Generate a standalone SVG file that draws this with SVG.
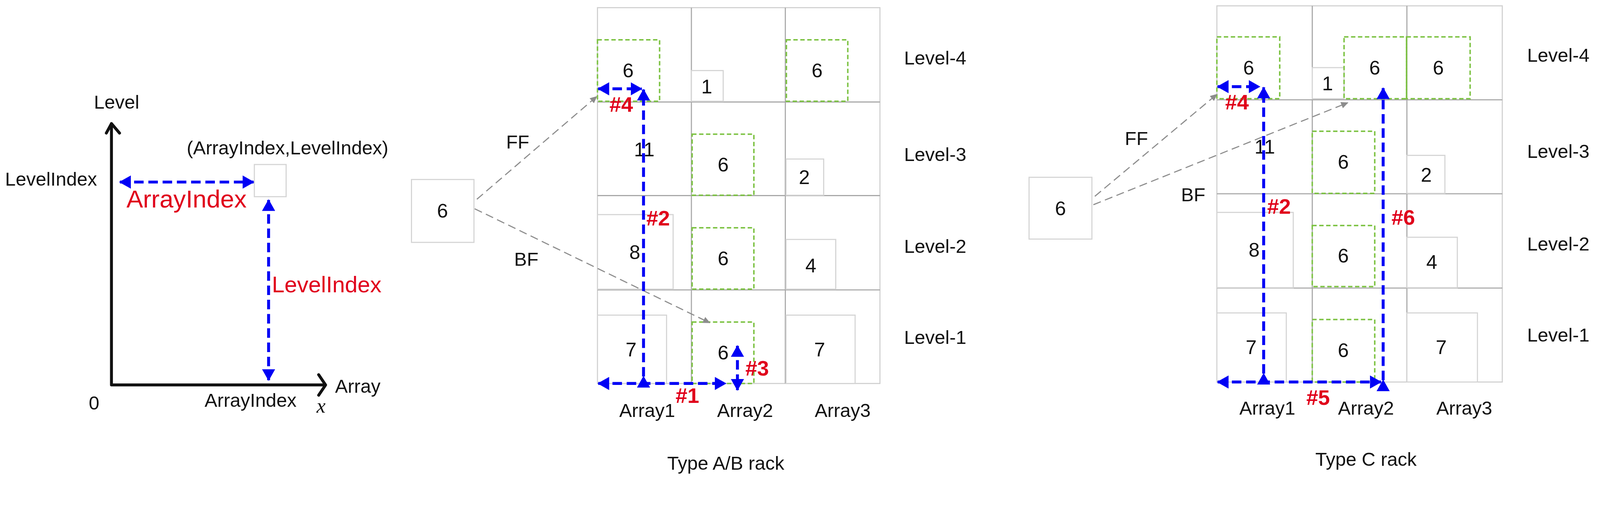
<svg xmlns="http://www.w3.org/2000/svg" width="4379" height="1323" viewBox="0 0 4379 1323">
<style>
text{font-family:"Liberation Sans",Arial,sans-serif;font-size:52px;fill:#111}
.n{font-size:54px;text-anchor:middle;dominant-baseline:central}
.m{text-anchor:middle}
.r{fill:#e0001b}
.h{fill:#e0001b;font-weight:bold;font-size:58px;text-anchor:middle;dominant-baseline:central}
.grid{stroke:#a8a8a8;stroke-width:3;fill:none}
.outer{stroke:#d0d0d0;stroke-width:3;fill:none}
.gbox{fill:#fff;stroke:#d4d4d4;stroke-width:3}
.green{fill:none;stroke:#7cc242;stroke-width:4;stroke-dasharray:12 7}
.blue{stroke:#0000f5;stroke-width:8;stroke-dasharray:26 13;fill:none;marker-start:url(#bs);marker-end:url(#be)}
.gray{stroke:#8c8c8c;stroke-width:3;stroke-dasharray:22 12;fill:none;marker-end:url(#ga)}
.axis{stroke:#111;stroke-width:8;fill:none;stroke-linecap:round;stroke-linejoin:round}
</style>
<defs>
<marker id="be" markerUnits="userSpaceOnUse" markerWidth="34" markerHeight="36" refX="30" refY="18" orient="auto"><path d="M0,0 L32,18 L0,36 Z" fill="#0000f5"/></marker>
<marker id="bs" markerUnits="userSpaceOnUse" markerWidth="34" markerHeight="36" refX="2" refY="18" orient="auto"><path d="M32,0 L0,18 L32,36 Z" fill="#0000f5"/></marker>
<marker id="ga" markerUnits="userSpaceOnUse" markerWidth="20" markerHeight="18" refX="18" refY="9" orient="auto"><path d="M0,0 L20,9 L0,18 Z" fill="#8c8c8c"/></marker>
</defs>
<g transform="scale(0.9355)">
<g id="coord">
<path class="axis" d="M305,1053 V338 M291,364 L305,338 L327,364 M305,1053 H890 M872,1025 L891,1053 L872,1081"/>
<text x="257" y="297">Level</text>
<text x="14" y="508">LevelIndex</text>
<text x="511" y="422">(ArrayIndex,LevelIndex)</text>
<rect x="696" y="450" width="87" height="88" class="gbox"/>
<text x="346" y="568" class="r" style="font-size:68px">ArrayIndex</text>
<text x="744" y="800" class="r" style="font-size:62px">LevelIndex</text>
<text x="243" y="1120">0</text>
<text x="560" y="1113">ArrayIndex</text>
<text x="917" y="1074">Array</text>
<text x="866" y="1129" style="font-family:'Liberation Serif',serif;font-style:italic;font-size:56px">x</text>
</g>

<g id="rackAB">
<rect x="1635" y="21" width="773" height="1028" class="outer"/>
<path class="grid" d="M1892,21 V1049 M2149,21 V1049 M1635,279 H2408 M1635,535 H2408 M1635,793 H2408"/>
<rect x="1892" y="193" width="87" height="84" class="gbox"/>
<rect x="2151" y="435" width="103" height="99" class="gbox"/>
<rect x="1635" y="587" width="207" height="204" class="gbox"/>
<rect x="2151" y="655" width="136" height="136" class="gbox"/>
<rect x="1635" y="862" width="189" height="187" class="gbox"/>
<rect x="2151" y="862" width="189" height="187" class="gbox"/>
<rect x="1635" y="109" width="170" height="168" class="green"/>
<rect x="2152" y="109" width="168" height="168" class="green"/>
<rect x="1894" y="367" width="169" height="167" class="green"/>
<rect x="1894" y="623" width="169" height="168" class="green"/>
<rect x="1894" y="881" width="169" height="168" class="green"/>
<text class="n" x="1719" y="193">6</text>
<text class="n" x="1934" y="237">1</text>
<text class="n" x="2236" y="193">6</text>
<text class="n" x="1763" y="409">11</text>
<text class="n" x="1979" y="451">6</text>
<text class="n" x="2201" y="485">2</text>
<text class="n" x="1737" y="690">8</text>
<text class="n" x="1979" y="707">6</text>
<text class="n" x="2219" y="726">4</text>
<text class="n" x="1727" y="956">7</text>
<text class="n" x="1979" y="965">6</text>
<text class="n" x="2243" y="956">7</text>
<text x="2474" y="176">Level-4</text>
<text x="2474" y="440">Level-3</text>
<text x="2474" y="692">Level-2</text>
<text x="2474" y="941">Level-1</text>
<text class="m" x="1771" y="1141">Array1</text>
<text class="m" x="2039" y="1141">Array2</text>
<text class="m" x="2306" y="1141">Array3</text>
<text class="m" x="1986" y="1285">Type A/B rack</text>
</g>
<g id="itemAB">
<rect x="1126" y="491" width="171" height="172" class="gbox"/>
<text class="n" x="1211" y="577">6</text>
<text x="1385" y="406">FF</text>
<text x="1407" y="727">BF</text>
</g>

<g id="rackC">
<rect x="3330" y="16" width="781" height="1029" class="outer"/>
<path class="grid" d="M3591,16 V1045 M3850,16 V1045 M3330,273 H4111 M3330,530 H4111 M3330,788 H4111"/>
<rect x="3591" y="185" width="87" height="85" class="gbox"/>
<rect x="3850" y="425" width="104" height="104" class="gbox"/>
<rect x="3330" y="581" width="209" height="206" class="gbox"/>
<rect x="3850" y="649" width="138" height="138" class="gbox"/>
<rect x="3330" y="856" width="190" height="189" class="gbox"/>
<rect x="3850" y="856" width="193" height="189" class="gbox"/>
<rect x="3330" y="101" width="172" height="169" class="green"/>
<rect x="3678" y="101" width="171" height="169" class="green"/>
<rect x="3849" y="101" width="174" height="169" class="green"/>
<rect x="3591" y="359" width="171" height="170" class="green"/>
<rect x="3591" y="617" width="171" height="167" class="green"/>
<rect x="3591" y="874" width="171" height="171" class="green"/>
<text class="n" x="3417" y="186">6</text>
<text class="n" x="3633" y="228">1</text>
<text class="n" x="3762" y="186">6</text>
<text class="n" x="3936" y="186">6</text>
<text class="n" x="3461" y="401">11</text>
<text class="n" x="3676" y="443">6</text>
<text class="n" x="3903" y="478">2</text>
<text class="n" x="3432" y="684">8</text>
<text class="n" x="3676" y="700">6</text>
<text class="n" x="3918" y="717">4</text>
<text class="n" x="3424" y="950">7</text>
<text class="n" x="3676" y="958">6</text>
<text class="n" x="3944" y="950">7</text>
<text x="4179" y="169">Level-4</text>
<text x="4179" y="432">Level-3</text>
<text x="4179" y="685">Level-2</text>
<text x="4179" y="934">Level-1</text>
<text class="m" x="3468" y="1134">Array1</text>
<text class="m" x="3738" y="1134">Array2</text>
<text class="m" x="4007" y="1134">Array3</text>
<text class="m" x="3738" y="1274">Type C rack</text>
</g>
<g id="itemC">
<rect x="2816" y="485" width="172" height="169" class="gbox"/>
<text class="n" x="2902" y="570">6</text>
<text x="3078" y="397">FF</text>
<text x="3232" y="551">BF</text>
</g>

<g id="connectors">
<line class="blue" x1="328" y1="498" x2="694" y2="498"/>
<line class="blue" x1="735" y1="547" x2="735" y2="1040"/>
<line class="gray" x1="1305" y1="545" x2="1633" y2="264"/>
<line class="gray" x1="1299" y1="571" x2="1942" y2="883"/>
<line class="blue" x1="1637" y1="243" x2="1756" y2="243"/>
<line class="blue" x1="1761" y1="1030" x2="1761" y2="245" style="marker-start:url(#be);marker-end:url(#be)"/>
<line class="blue" x1="1637" y1="1049" x2="1986" y2="1049"/>
<line class="blue" x1="2018" y1="946" x2="2018" y2="1067"/>
<line class="gray" x1="2996" y1="537" x2="3330" y2="258"/>
<line class="gray" x1="2992" y1="560" x2="3688" y2="281"/>
<line class="blue" x1="3332" y1="237" x2="3447" y2="237"/>
<line class="blue" x1="3458" y1="1022" x2="3458" y2="239" style="marker-start:url(#be);marker-end:url(#be)"/>
<line class="blue" x1="3785" y1="1040" x2="3785" y2="241" style="marker-start:url(#be);marker-end:url(#be)"/>
<line class="blue" x1="3332" y1="1045" x2="3779" y2="1045"/>
<text class="h" x="1700" y="285">#4</text>
<text class="h" x="1801" y="597">#2</text>
<text class="h" x="1881" y="1082">#1</text>
<text class="h" x="2072" y="1007">#3</text>
<text class="h" x="3385" y="279">#4</text>
<text class="h" x="3500" y="564">#2</text>
<text class="h" x="3840" y="594">#6</text>
<text class="h" x="3607" y="1087">#5</text>
</g>
</g>
</svg>
